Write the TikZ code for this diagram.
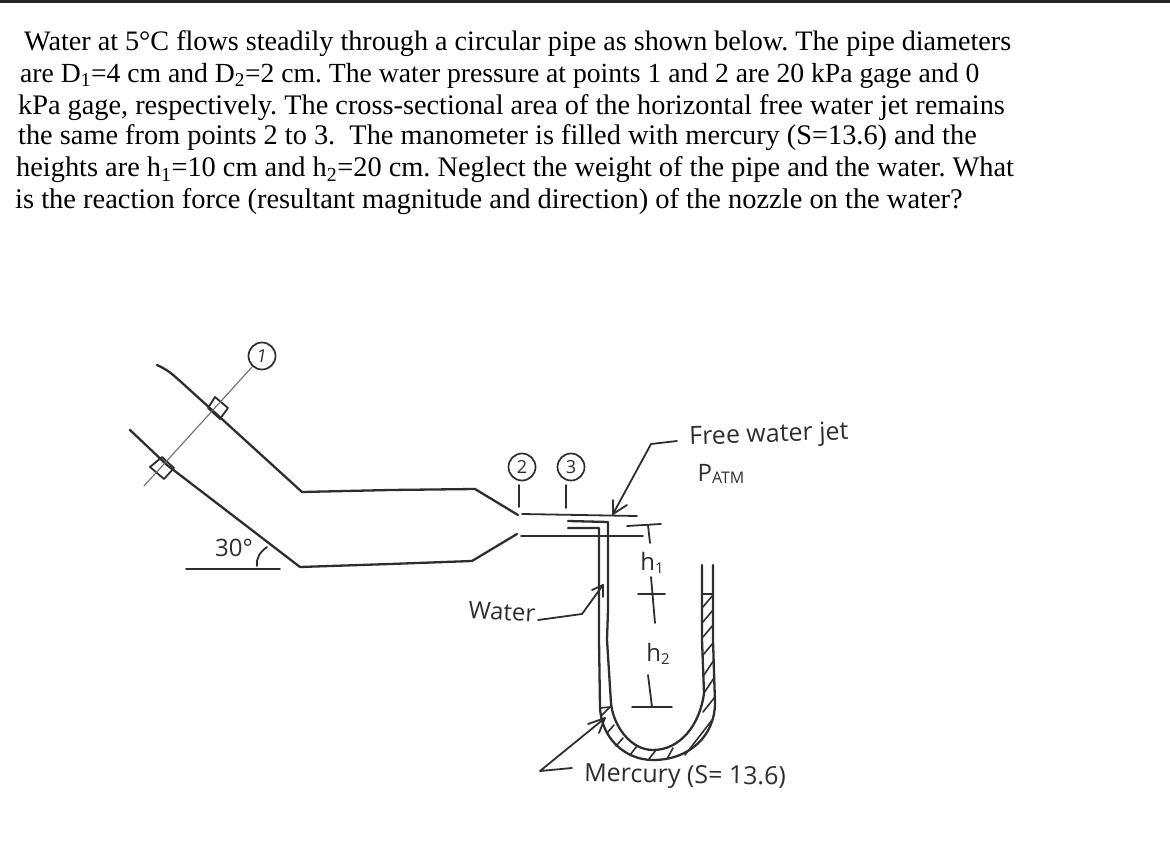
\documentclass[tikz,border=0pt]{standalone}
\usepackage{fontspec}
\setmainfont{Liberation Serif}
\newfontfamily\handfont{Open Sans}
\usetikzlibrary{arrows.meta}
\definecolor{ink}{HTML}{2E2E2E}
\newcommand{\sub}[1]{\textsubscript{#1}}
\tikzset{
  x=1pt,y=-1pt,
  para/.style={anchor=base west,inner sep=0pt,font=\fontsize{#1}{30}\selectfont\frenchspacing,text=black},
  pen/.style={draw=ink,line width=2.3pt,line cap=round,line join=round},
  mid pen/.style={draw=ink,line width=1.8pt,line cap=round,line join=round},
  thin pen/.style={draw=ink!70,line width=1.1pt,line cap=round},
  hatch/.style={draw=ink,line width=1.6pt,line cap=round},
  hand/.style={inner sep=0pt,text=ink,font=\handfont\fontsize{#1}{#1}\selectfont},
  hand/.default=24,
  mark circle/.style={circle,draw=ink,line width=1.7pt,minimum size=27pt,inner sep=0pt,text=ink,font=\handfont\fontsize{18}{18}\selectfont},
}
\begin{document}
\begin{tikzpicture}
\useasboundingbox (0,0) rectangle (1170,861);
\fill[black!85] (0,0) rectangle (1170,3);
% problem text
\node[para=28.16] (l1) at (24,50.5) {Water at 5°C flows steadily through a circular pipe as shown below. The pipe diameters};
\node[para=27.65] (l2) at (20,82.5) {are D\sub{1}=4 cm and D\sub{2}=2 cm. The water pressure at points 1 and 2 are 20 kPa gage and 0};
\node[para=28.3] (l3) at (18,114.5) {kPa gage, respectively. The cross-sectional area of the horizontal free water jet remains};
\node[para=28.33] (l4) at (18,144.5) {the same from points 2 to 3.\ \ The manometer is filled with mercury (S=13.6) and the};
\node[para=28.36] (l5) at (16,176.5) {heights are h\sub{1}=10 cm and h\sub{2}=20 cm. Neglect the weight of the pipe and the water. What};
\node[para=28.46] (l6) at (15,208.5) {is the reaction force (resultant magnitude and direction) of the nozzle on the water?};
% pipe walls
\draw[pen] (157,365) .. controls (168,370) and (172,374) .. (180,381) -- (212,410) -- (302,492) -- (390,490) -- (475,489) -- (518,515);
\draw[pen] (130,430) -- (167,465) -- (300,567) -- (390,564) -- (472,561) -- (517,534);
% flange marks at section 1
\draw[mid pen] (215,397) -- (228,408) -- (220,419) -- (208,408) -- cycle;
\draw[mid pen] (162,457) -- (174,468) -- (164,479) -- (150,467) -- cycle;
\draw[thin pen] (252,367) -- (144,486);
% section markers
\node[mark circle] (s1) at (262,356) {\rotatebox{-10}{1}};
\node[mark circle] (s2) at (522,467) {2};
\node[mark circle] (s3) at (571,467) {3};
\draw[mid pen] (519,485) -- (519,507);
\draw[mid pen] (566,485) -- (566,508);
% angle
\node[hand=24] (angle) at (234,548) {30°};
\draw[mid pen] (267,547) .. controls (260,552) and (256,558) .. (257,566);
\draw[mid pen] (186,569) -- (280,569);
% jet
\draw[mid pen] (522,514) -- (637,516);
\draw[mid pen] (521,536) -- (643,536);
% jet callout
\node[hand=25,rotate=2] (jet) at (769,436) {Free water jet};
\node[hand=24] (patm) at (721,474) {P\raisebox{-2pt}{\fontsize{16}{16}\selectfont ATM}};
\draw[mid pen] (677,441) -- (651,444) -- (613,514);
\draw[mid pen] (613,500) -- (613,514) -- (627,505);
% pitot tube and manometer
\draw[pen] (568,521) -- (608,522) -- (608,610) -- (607,640) -- (611,703)
  .. controls (613,725) and (630,750) .. (653,750)
  .. controls (680,750) and (700,725) .. (704,693) -- (702,640) -- (702,565);
\draw[pen] (568,528) -- (599,528) -- (599,610) -- (599,640) -- (600,707)
  .. controls (601,738) and (625,760) .. (653,760)
  .. controls (690,760) and (715,735) .. (715,703) -- (713,640) -- (713,565);
% mercury levels
\draw[hatch] (600,708) -- (610,707);
\draw[hatch] (702,594) -- (713,594);
% mercury hatching
\foreach \a/\b/\c/\d in {702/608/713/595, 702/623/713/610, 703/637/713/625, 703/655/713/643, 704/675/714/660, 704/693/714/678, 703/712/715/697,
  601/716/610/707, 607/733/614/725, 616/746/623/738, 630/755/637/746, 649/759/656/750, 667/759/673/748}
  {\draw[hatch] (\a,\b) -- (\c,\d);}
\draw[hatch] (685,755) -- (712,720);
% dimensions h1 h2
\draw[mid pen] (627,526) -- (661,524);
\draw[mid pen] (648,525) -- (650,543);
\node[hand=24] (h1) at (652,563) {h\raisebox{-3pt}{\fontsize{15}{15}\selectfont 1}};
\draw[mid pen] (651,577) -- (655,623);
\draw[mid pen] (638,594) -- (665,594);
\node[hand=24] (h2) at (658,654) {h\raisebox{-3pt}{\fontsize{15}{15}\selectfont 2}};
\draw[mid pen] (648,675) -- (652,707);
\draw[mid pen] (632,707) -- (672,707);
% water callout
\node[hand=24,rotate=-3] (water) at (502,612) {Water};
\draw[mid pen] (538,620) -- (582,614) -- (603,585);
\draw[mid pen] (592,590) -- (603,585) -- (603,597);
% mercury callout
\node[hand=25,rotate=-1] (mercury) at (685,777) {Mercury (S= 13.6)};
\draw[mid pen] (572,768) -- (540,771) -- (605,718);
\draw[mid pen] (588,724) -- (605,718) -- (599,733);
\end{tikzpicture}
\end{document}
